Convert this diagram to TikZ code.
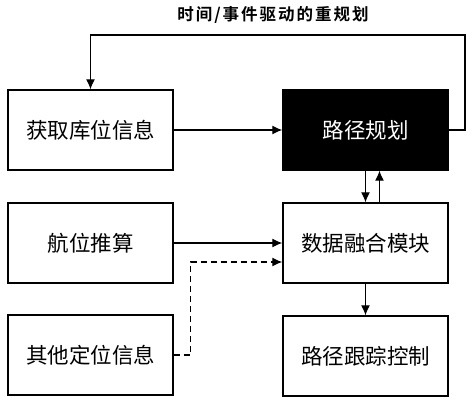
\documentclass[tikz,border=0pt]{standalone}
\usepackage{fontspec}
\usepackage{tikz}
\usetikzlibrary{arrows.meta}
\setmainfont{Noto Sans CJK SC}
\newfontfamily\titlefont[LetterSpace=12]{Noto Sans CJK SC Bold}

\begin{document}
\begin{tikzpicture}[x=1pt, y=1pt,
	blk/.style={draw, line width=1.4pt, minimum width=165pt, minimum height=80pt, inner sep=0pt, font=\fontsize{21.5}{24}\selectfont},
	every path/.style={line width=1.2pt},
	>={Latex[length=10pt, width=9pt]}]
	\useasboundingbox (0,0) rectangle (474,405);
	\node (info) at (90.5,275) [blk] {获取库位信息};
	\node (plan) at (365.5,275) [blk, fill=black, text=white] {路径规划};
		\node (dr) at (90.5,162) [blk] {航位推算};
		\node (fusion) at (365.5,162) [blk] {数据融合模块};
			\node (other) at (90.5,50) [blk] {其他定位信息};
			\node (track) at (365.5,49) [blk] {路径跟踪控制};
	\node (title) at (273,390) [font=\titlefont\fontsize{16.5}{18}\selectfont] {时间/事件驱动的重规划};
	\coordinate (corner) at (465,370);
	\draw[->] (info) to (plan);
	\draw[->] (plan.east) -| (corner) -| (info.north);
	\draw[->] (plan.south) to (fusion.north);
	\draw[->] ([xshift=14pt]fusion.north) to ([xshift=14pt]plan.south);
	\draw[->] (dr) to (fusion);
	\draw[->, dashed, dash pattern=on 6pt off 4pt] (other.east) -- ++(17,0) |- ([yshift=-19pt]fusion.west);
	\draw[->] (fusion) to (track);
\end{tikzpicture}
\end{document}
